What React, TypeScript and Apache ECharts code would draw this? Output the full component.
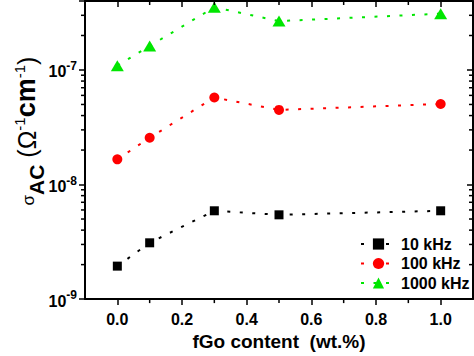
import React, { useEffect, useRef } from "react";
import * as echarts from "echarts";

const fgoContent = [0, 0.1, 0.3, 0.5, 1.0];
const sigma10k = [1.94e-9, 3.1e-9, 5.9e-9, 5.44e-9, 5.9e-9];
const sigma100k = [1.66e-8, 2.56e-8, 5.75e-8, 4.48e-8, 5.05e-8];
const sigma1000k = [1.09e-7, 1.62e-7, 3.53e-7, 2.67e-7, 3.1e-7];
const seriesNames = ["10 kHz", "100 kHz", "1000 kHz"];
const xTickValues = [0, 0.2, 0.4, 0.6, 0.8, 1.0];
const xMinorValues = [0.1, 0.3, 0.5, 0.7, 0.9];
const yMinorValues = [
  2e-9, 3e-9, 4e-9, 5e-9, 6e-9, 7e-9, 8e-9, 9e-9,
  2e-8, 3e-8, 4e-8, 5e-8, 6e-8, 7e-8, 8e-8, 9e-8,
  2e-7, 3e-7,
];
const X_MIN = -0.1;
const X_MAX = 1.1;
const Y_MIN = 1e-9;
const Y_MAX = 4e-7;

const FONT = "'Liberation Sans', Arial, sans-serif";

export default function App() {
  const ref = useRef<HTMLDivElement>(null);
  useEffect(() => {
    if (!ref.current) return;
    const chart = echarts.init(ref.current, undefined, { renderer: "svg" });
    const mk = (vals: number[]) => fgoContent.map((x, i) => [x, vals[i]]);
    const minorData: number[][] = [
      ...yMinorValues.map((v) => [X_MIN, v, 0]),
      ...xMinorValues.map((v) => [v, Y_MIN, 1]),
    ];
    const lineStyle = (c: string) => ({ color: c, width: 2, type: [3, 9.5] as any });
    const yLabelFmt = (v: number) => {
      const e = Math.log10(v);
      if (Math.abs(e - Math.round(e)) > 1e-6) return "";
      return "{b|10}{s|" + Math.round(e) + "}";
    };
    chart.setOption({
      animation: false,
      textStyle: { fontFamily: FONT },
      grid: { left: 85, right: 1, top: 1, bottom: 55 },
      legend: {
        data: seriesNames,
        orient: "vertical",
        left: 360,
        top: 236,
        padding: 0,
        itemWidth: 35,
        itemHeight: 14,
        itemGap: 3.5,
        textStyle: { fontSize: 16, fontWeight: "bold", color: "#000", fontFamily: FONT },
      },
      xAxis: [
        {
          type: "value",
          min: X_MIN,
          max: X_MAX,
          position: "bottom",
          name: "fGo content  (wt.%)",
          nameLocation: "middle",
          nameGap: 32,
          nameTextStyle: { fontSize: 19, fontWeight: "bold", color: "#000", fontFamily: FONT },
          axisLine: { onZero: false, lineStyle: { color: "#000", width: 2 } },
          axisTick: { customValues: xTickValues, length: 6, lineStyle: { color: "#000", width: 1.5 } },
          axisLabel: {
            customValues: xTickValues,
            formatter: (v: number) => v.toFixed(1),
            fontSize: 16,
            fontWeight: "bold",
            color: "#000",
            margin: 12,
            fontFamily: FONT,
          },
          splitLine: { show: false },
        },
        {
          type: "value",
          min: X_MIN,
          max: X_MAX,
          position: "top",
          axisLine: { onZero: false, lineStyle: { color: "#000", width: 2 } },
          axisTick: { customValues: xTickValues, inside: true, length: 6, lineStyle: { color: "#000", width: 1.5 } },
          axisLabel: { show: false },
          splitLine: { show: false },
        },
      ],
      yAxis: [
        {
          type: "log",
          logBase: 10,
          min: Y_MIN,
          max: Y_MAX,
          position: "left",
          axisLine: { onZero: false, lineStyle: { color: "#000", width: 2 } },
          axisTick: { length: 6, lineStyle: { color: "#000", width: 1.5 } },
          axisLabel: {
            formatter: yLabelFmt,
            margin: 8,
            color: "#000",
            rich: {
              b: { fontSize: 16, fontWeight: "bold", color: "#000", fontFamily: FONT, verticalAlign: "bottom" },
              s: { fontSize: 12, fontWeight: "bold", color: "#000", fontFamily: FONT, verticalAlign: "bottom", padding: [0, 0, 8, 0] },
            },
          },
          splitLine: { show: false },
        },
        {
          type: "log",
          logBase: 10,
          min: Y_MIN,
          max: Y_MAX,
          position: "right",
          axisLine: { onZero: false, lineStyle: { color: "#000", width: 2 } },
          axisTick: { inside: true, length: 6, lineStyle: { color: "#000", width: 1.5 } },
          axisLabel: { show: false },
          splitLine: { show: false },
        },
      ],
      graphic: [
        {
          type: "text",
          x: 29,
          y: 131,
          rotation: Math.PI / 2,
          style: {
            text: "{g|σ}{sub|AC}{n| (Ω}{sup|-1}{b|cm}{sup|-1}{n|)}",
            align: "center",
            verticalAlign: "middle",
            rich: {
              g: { fontSize: 17, color: "#000", fontFamily: FONT, verticalAlign: "bottom", padding: [0, 0, 10, 0] },
              sub: { fontSize: 21, fontWeight: "bold", color: "#000", fontFamily: FONT, verticalAlign: "bottom", padding: [0, 0, 0, 0] },
              n: { fontSize: 25, color: "#000", fontFamily: FONT, verticalAlign: "bottom", padding: [0, 0, 7, 0] },
              b: { fontSize: 27, fontWeight: "bold", color: "#000", fontFamily: FONT, verticalAlign: "bottom", padding: [0, 0, 7, 0] },
              sup: { fontSize: 15, color: "#000", fontFamily: FONT, verticalAlign: "bottom", padding: [0, 0, 20, 0] },
            },
          },
        },
      ],
      series: [
        {
          name: seriesNames[0],
          type: "line",
          data: mk(sigma10k),
          symbol: "rect",
          symbolSize: 9,
          itemStyle: { color: "#000" },
          lineStyle: lineStyle("#000"),
        },
        {
          name: seriesNames[1],
          type: "line",
          data: mk(sigma100k),
          symbol: "circle",
          symbolSize: 10,
          itemStyle: { color: "#ff0000" },
          lineStyle: lineStyle("#ff0000"),
        },
        {
          name: seriesNames[2],
          type: "line",
          data: mk(sigma1000k),
          symbol: "triangle",
          symbolSize: [13, 11],
          itemStyle: { color: "#00e600" },
          lineStyle: lineStyle("#00e600"),
        },
        {
          name: "minorTicks",
          type: "custom",
          silent: true,
          clip: false,
          z: 10,
          data: minorData,
          renderItem: (params: any, api: any) => {
            const x = api.value(0);
            const y = api.value(1);
            const k = api.value(2);
            const st = { stroke: "#000", lineWidth: 1.5 };
            if (k === 0) {
              const pL = api.coord([X_MIN, y]);
              const pR = api.coord([X_MAX, y]);
              return {
                type: "group",
                children: [
                  { type: "line", shape: { x1: pL[0] - 4, y1: pL[1], x2: pL[0], y2: pL[1] }, style: st },
                  { type: "line", shape: { x1: pR[0] - 4, y1: pR[1], x2: pR[0], y2: pR[1] }, style: st },
                ],
              };
            }
            const pB = api.coord([x, Y_MIN]);
            const pT = api.coord([x, Y_MAX]);
            return {
              type: "group",
              children: [
                { type: "line", shape: { x1: pB[0], y1: pB[1], x2: pB[0], y2: pB[1] + 4 }, style: st },
                { type: "line", shape: { x1: pT[0], y1: pT[1], x2: pT[0], y2: pT[1] + 4 }, style: st },
              ],
            };
          },
        },
      ],
    });
    return () => chart.dispose();
  }, []);
  return (
    <div
      ref={ref}
      style={{ position: "fixed", left: 0, top: 0, width: 474, height: 356, background: "#fff" }}
    />
  );
}
